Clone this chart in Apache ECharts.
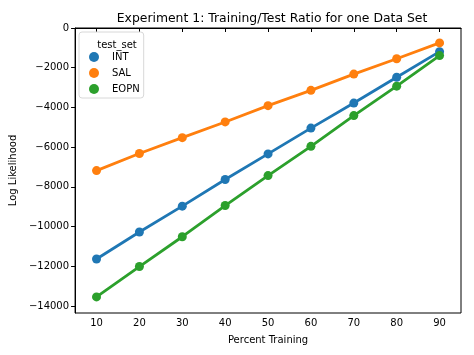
<!DOCTYPE html>
<html><head><meta charset="utf-8">
<script src="https://cdn.jsdelivr.net/npm/echarts@6/dist/echarts.min.js"></script>
<style>html,body{margin:0;padding:0;background:#fff}#c{width:474px;height:355px}</style>
</head><body><div id="c"></div>
<script>
const percentTraining = [10, 20, 30, 40, 50, 60, 70, 80, 90];
const intValues  = [-11630, -10270, -8970, -7630, -6340, -5040, -3780, -2480, -1190];
const salValues  = [-7180, -6320, -5520, -4730, -3910, -3140, -2320, -1550, -750];
const eopnValues = [-13540, -12010, -10510, -8940, -7430, -5960, -4410, -2930, -1390];
const xTicks = [10, 20, 30, 40, 50, 60, 70, 80, 90];
const yTicks = [0, -2000, -4000, -6000, -8000, -10000, -12000, -14000];
const seriesNames = ['INT', 'SAL', 'EOPN'];
const colors = ['#1f77b4', '#ff7f0e', '#2ca02c'];

const font = 'DejaVu Sans';
const chart = echarts.init(document.getElementById('c'), null, {renderer: 'canvas'});
function mk(name, vals, color) {
  return {
    name: name, type: 'line',
    data: percentTraining.map((x, i) => [x, vals[i]]),
    symbol: 'circle', symbolSize: 9,
    lineStyle: {width: 2.8, color: color},
    itemStyle: {color: color},
    emphasis: {disabled: true},
    animation: false
  };
}
chart.setOption({
  animation: false,
  title: [{
    text: 'Experiment 1: Training/Test Ratio for one Data Set',
    left: 267, top: 8, textAlign: 'center',
    textStyle: {fontFamily: font, fontSize: 12.4, fontWeight: 'normal', color: '#000'}
  }, {
    text: 'test_set', left: 112, top: 35, textAlign: 'center',
    textStyle: {fontFamily: font, fontSize: 10, fontWeight: 'normal', color: '#000'}
  }],
  grid: {left: 74, right: 13, top: 28, bottom: 42, show: true, borderColor: '#000', borderWidth: 1, backgroundColor: 'transparent'},
  legend: {
    left: 79, top: 32, orient: 'vertical',
    data: seriesNames,
    icon: 'circle', itemWidth: 10, itemHeight: 10, itemGap: 6,
    padding: [20, 4, 4, 10],
    backgroundColor: '#fff', borderColor: '#d8d8d8', borderWidth: 1, borderRadius: 3,
    textStyle: {fontFamily: font, fontSize: 10, color: '#000', padding: [0, 0, 0, 8]}
  },
  xAxis: {
    type: 'value', min: 5, max: 95,
    name: 'Percent Training', nameLocation: 'middle', nameGap: 22,
    nameTextStyle: {fontFamily: font, fontSize: 10, color: '#000'},
    axisLine: {show: true, lineStyle: {color: '#000', width: 1}},
    axisTick: {show: true, length: 4, lineStyle: {color: '#000'}, customValues: xTicks},
    axisLabel: {fontFamily: font, fontSize: 10, color: '#000', margin: 5, customValues: xTicks},
    splitLine: {show: false}
  },
  yAxis: {
    type: 'value', min: -14350, max: 0,
    name: 'Log Likelihood', nameLocation: 'middle', nameGap: 55, nameRotate: 90,
    nameTextStyle: {fontFamily: font, fontSize: 10, color: '#000'},
    axisLine: {show: true, lineStyle: {color: '#000', width: 1}},
    axisTick: {show: true, length: 4, lineStyle: {color: '#000'}, customValues: yTicks},
    axisLabel: {fontFamily: font, fontSize: 10, color: '#000', margin: 6, customValues: yTicks,
      formatter: v => String(v).replace('-', '\u2212')},
    splitLine: {show: false}
  },
  series: [mk(seriesNames[0], intValues, colors[0]), mk(seriesNames[1], salValues, colors[1]), mk(seriesNames[2], eopnValues, colors[2])]
});
</script></body></html>
